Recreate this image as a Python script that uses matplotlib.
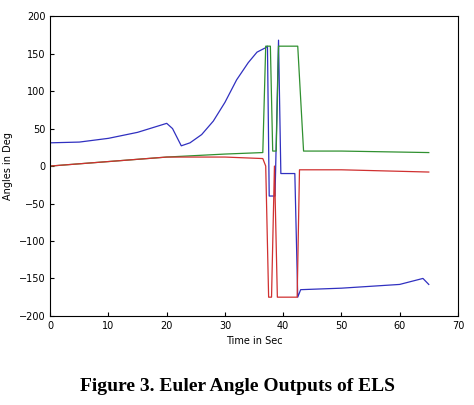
import matplotlib
matplotlib.use("Agg")
import matplotlib.pyplot as plt

blue_t = [0, 5, 10, 15, 20, 21, 22.5, 24, 26, 28, 30, 32, 34, 35.5, 37, 37.3, 37.6, 38.6, 39.2, 39.6, 40, 42, 42.5, 43, 50, 60, 64, 65]
blue_y = [31, 32, 37, 45, 57, 50, 27, 31, 42, 60, 85, 115, 138, 152, 158, 160, -40, -40, 168, -10, -10, -10, -175, -165, -163, -158, -150, -158]
green_t = [0, 10, 20, 30, 36.5, 37, 37.8, 38.2, 38.8, 39.2, 40.3, 42.5, 43.5, 50, 65]
green_y = [0, 6, 12, 16, 18, 160, 160, 20, 20, 160, 160, 160, 20, 20, 18]
red_t = [0, 10, 20, 30, 36.5, 37, 37.5, 38, 38.5, 39, 40, 42.4, 42.8, 50, 65]
red_y = [0, 6, 12, 12, 10, 0, -175, -175, 0, -175, -175, -175, -5, -5, -8]

fig = plt.figure(figsize=(4.74, 4.05), dpi=100)
ax = fig.add_axes([0.106, 0.22, 0.86, 0.74])
ax.plot(blue_t, blue_y, color="#3030c0", lw=0.9)
ax.plot(green_t, green_y, color="#309030", lw=0.9)
ax.plot(red_t, red_y, color="#d03030", lw=0.9)
ax.set_xlim(0, 70)
ax.set_ylim(-200, 200)
ax.set_xticks(range(0, 71, 10))
ax.set_yticks(range(-200, 201, 50))
ax.tick_params(labelsize=7, direction="in", length=3)
ax.set_xlabel("Time in Sec", fontsize=7)
ax.set_ylabel("Angles in Deg", fontsize=7)
fig.text(0.5, 0.035, "Figure 3. Euler Angle Outputs of ELS", ha="center",
         fontsize=14, fontweight="bold", family="Liberation Serif")
fig.savefig("out.png", dpi=100)
